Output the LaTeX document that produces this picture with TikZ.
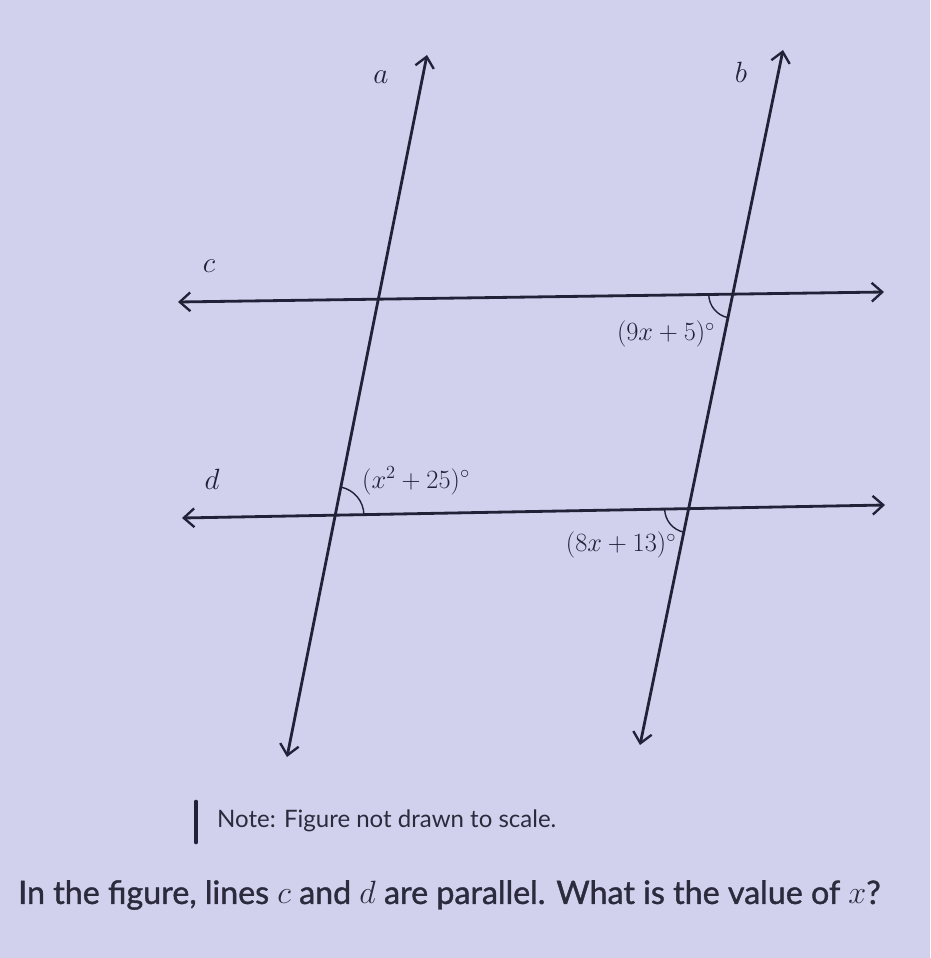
\RequirePackage{fix-cm}
\documentclass[tikz,border=0pt]{standalone}
\usepackage{fontspec}
\usepackage{xcolor}
\newfontfamily\latofont{Lato}
\newfontfamily\latoheavy[FakeBold=1.2]{Lato}
\definecolor{screen}{rgb}{0.82,0.82,0.93}
\definecolor{ink}{rgb}{0.13,0.13,0.22}
\definecolor{greytext}{rgb}{0.17,0.17,0.24}
\usetikzlibrary{arrows.meta,calc,positioning}
\tikzset{
  line/.style={draw=ink, line width=2.4pt, {Straight Barb[length=9pt,width=16pt,line width=2pt]}-{Straight Barb[length=9pt,width=16pt,line width=2pt]}},
  anglearc/.style={draw=ink, line width=1.2pt},
  lname/.style={text=ink, font=\fontsize{25}{30}\selectfont, inner sep=0pt},
  angle/.style={text=ink, font=\fontsize{22.5}{26}\selectfont, inner sep=0pt},
  notetext/.style={text=greytext, font=\latofont\fontsize{20.5}{24}\selectfont, inner sep=0pt, anchor=west},
  question/.style={text=greytext, font=\latoheavy\fontsize{27.5}{32}\selectfont, inner sep=0pt, anchor=west},
}

\begin{document}
\begin{tikzpicture}[x=0.3mm, y=-0.3mm]
  \fill[screen] (0,0) rectangle (930,958);
  % line ends
  \coordinate (aTop) at (427,55);
  \coordinate (aBot) at (287,757);
  \coordinate (bTop) at (783,50);
  \coordinate (bBot) at (640,745);
  \coordinate (cLeft) at (178,302);
  \coordinate (cRight) at (884,292);
  \coordinate (dLeft) at (182,518);
  \coordinate (dRight) at (885,505);
  % crossings
  \coordinate (ac) at (intersection of aBot--aTop and cLeft--cRight);
  \coordinate (ad) at (intersection of aBot--aTop and dLeft--dRight);
  \coordinate (bc) at (intersection of bBot--bTop and cLeft--cRight);
  \coordinate (bd) at (intersection of bBot--bTop and dLeft--dRight);

  \path[line] (aBot) -- (aTop);
  \path[line] (bBot) -- (bTop);
  \path[line] (cRight) -- (cLeft);
  \path[line] (dRight) -- (dLeft);

  \draw[anglearc] ($(bc)+(180.8:7.2mm)$) arc[start angle=180.8, end angle=258.5, radius=7.2mm];
  \draw[anglearc] ($(ad)+(1.1:8.6mm)$) arc[start angle=1.1, end angle=78.4, radius=8.6mm];
  \draw[anglearc] ($(bd)+(181.1:7.2mm)$) arc[start angle=181.1, end angle=258.5, radius=7.2mm];

  \node[lname] (aLabel) at (381,77) {$a$};
  \node[lname] (bLabel) at (741,72) {$b$};
  \node[lname] (cLabel) at (209,266) {$c$};
  \node[lname] (dLabel) at (212,479) {$d$};

  \node[angle] (bcAngle) at (666,334) {$(9x+5)^\circ$};
  \node[angle] (adAngle) at (416,481) {$(x^2+25)^\circ$};
  \node[angle] (bdAngle) at (621,545) {$(8x+13)^\circ$};

  \draw[ink, line width=4pt, line cap=round] (196,802) -- (196,842);
  \node[notetext] (note) at (217,821) {Note: Figure not drawn to scale.};
  \node[question] (ask) at (18,895) {In the figure, lines $c$ and $d$ are parallel. What is the value of $x$?};
\end{tikzpicture}
\end{document}
